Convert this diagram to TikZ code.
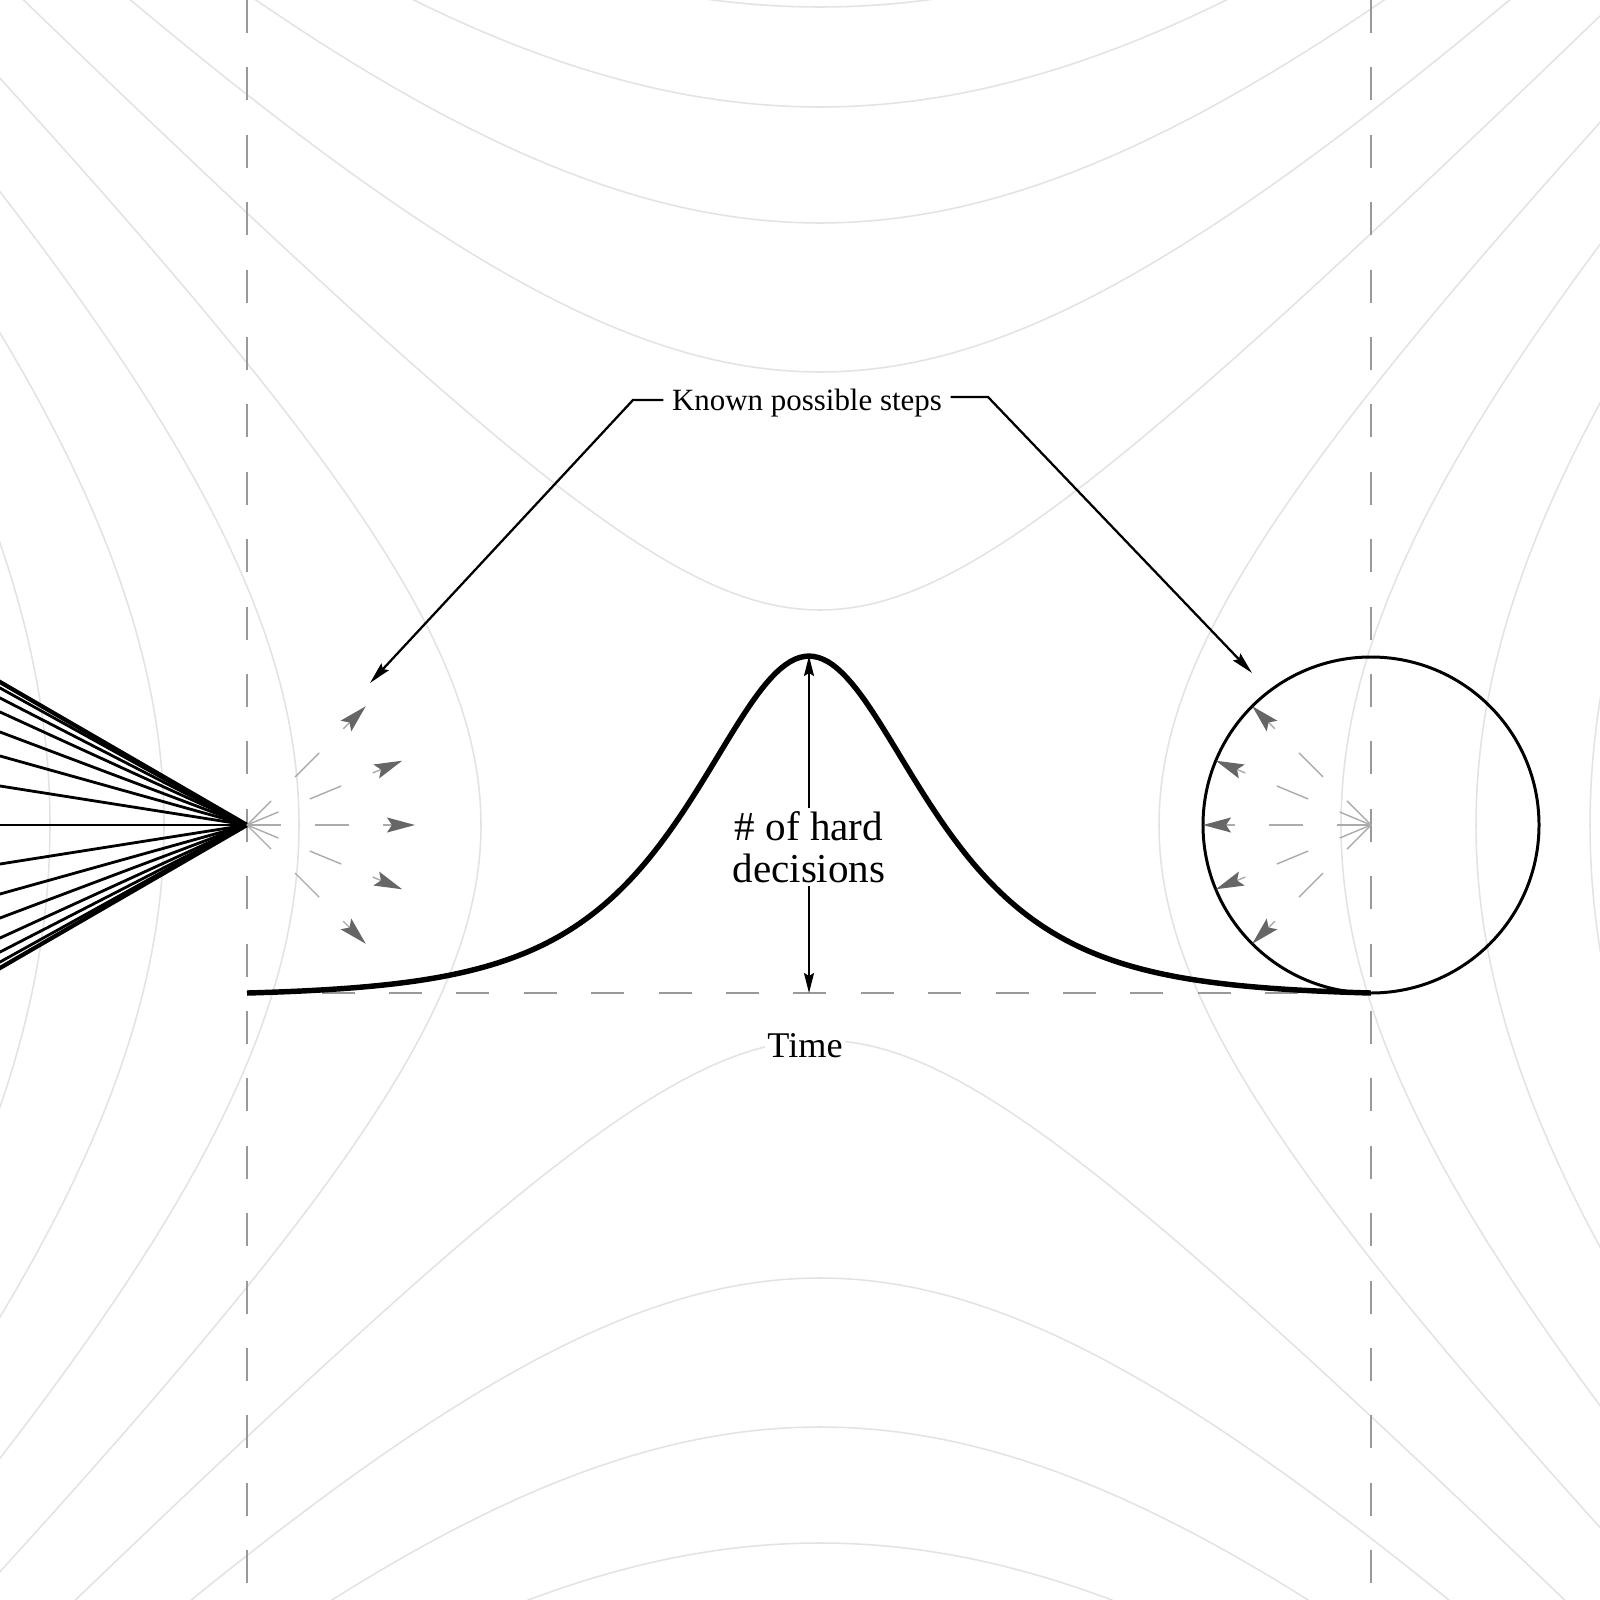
\documentclass[tikz,border=0pt]{standalone}
\usepackage{fontspec}
\setmainfont{Liberation Serif}
\usetikzlibrary{arrows.meta}
\definecolor{bgline}{HTML}{E3E3E3}
\definecolor{guide}{HTML}{999999}
\definecolor{raycol}{HTML}{ABABAB}
\definecolor{tipcol}{HTML}{666666}
\begin{document}
\begin{tikzpicture}[x=1cm,y=-1cm,
  contour/.style={draw=bgline, line width=0.45pt},
  guideline/.style={draw=guide, line width=0.45pt, dash pattern=on 0.33cm off 0.344cm},
  fanline/.style={draw=black, line width=0.8pt},
  fanouter/.style={draw=black, line width=1.2pt},
  ray/.style={draw=raycol, line width=0.4pt, dash pattern=on 0.34cm off 0.34cm,
    -{Stealth[length=0.28cm,width=0.15cm,inset=0.05cm,color=tipcol]}},
  bell/.style={draw=black, line width=1.55pt},
  dim/.style={draw=black, line width=0.6pt, -{Stealth[length=0.2cm,width=0.1cm,inset=0.03cm]}},
  leader/.style={draw=black, line width=0.65pt, -{Stealth[length=0.22cm,width=0.1cm,inset=0.03cm]}},
  biglabel/.style={font=\fontsize{11.7pt}{12pt}\selectfont, align=center, fill=white, inner sep=0.03cm},
  timelabel/.style={font=\fontsize{10.3pt}{12pt}\selectfont, fill=white, inner sep=0.02cm},
  steplabel/.style={font=\fontsize{8.8pt}{10pt}\selectfont, inner xsep=0.08cm, inner ysep=0.02cm},
  ringnode/.style={circle, draw=black, line width=0.85pt, minimum size=3.36cm, inner sep=0pt},
]
\useasboundingbox (0,0) rectangle (16,16);
\clip (0,0) rectangle (16,16);

% background contour lines (level curves of a saddle)
\foreach \b in {2.15,4.53,6.02,7.18,8.18} {
  \draw[contour] plot[domain=-8.6:8.6, samples=181, variable=\t] ({8.20+\t},{8.25-sqrt(\b*\b+\t*\t)});
  \draw[contour] plot[domain=-8.6:8.6, samples=181, variable=\t] ({8.20+\t},{8.25+sqrt(\b*\b+\t*\t)});
}
\foreach \a in {3.39,5.21,6.56,7.70} {
  \draw[contour] plot[domain=-8.6:8.6, samples=181, variable=\t] ({8.20-sqrt(\a*\a+\t*\t)},{8.25+\t});
  \draw[contour] plot[domain=-8.6:8.6, samples=181, variable=\t] ({8.20+sqrt(\a*\a+\t*\t)},{8.25+\t});
}

% key points
\coordinate (F) at (2.47,8.25);
\coordinate (C) at (13.71,8.25);
\coordinate (LT) at (2.47,0);
\coordinate (LB) at (2.47,16);
\coordinate (RT) at (13.71,0);
\coordinate (RB) at (13.71,16);
\coordinate (B0) at (2.47,9.93);
\coordinate (B1) at (13.71,9.93);
\coordinate (peak) at (8.09,6.56);
\coordinate (foot) at (8.09,9.93);

% guide lines
\draw[guideline] (LT) -- (LB);
\draw[guideline] (RT) -- (RB);
\draw[guideline, dash phase=0.602cm] (B0) -- (B1);

% fan of lines converging on the left point
\foreach \o in {-1.37,-1.27,-1.13,-0.93,-0.69,-0.39,0,0.39,0.69,0.93,1.13,1.27,1.37} {
  \coordinate (fe) at (-0.2,{8.25+\o*1.081});
  \draw[fanline] (F) -- (fe);
}
\foreach \o in {-1.43,1.43} {
  \coordinate (fo) at (-0.2,{8.25+\o*1.081});
  \draw[fanouter] (F) -- (fo);
}

% possible steps from the left point
\foreach \ang [count=\i] in {-45,-22.5,0,22.5,45} {
  \path (F) ++(\ang:1.68) coordinate (lr\i);
  \draw[ray] (F) -- (lr\i);
}

% circle and inward steps
\node[ringnode] (ring) at (C) {};
\foreach \ang [count=\i] in {-45,-22.5,0,22.5,45} {
  \path (C) ++(180+\ang:1.68) coordinate (rr\i);
  \draw[ray] (C) -- (rr\i);
}

% bell curve
\draw[bell] plot[domain=-5.62:5.62, samples=241, variable=\t]
  ({8.09+\t},{9.93-3.37*(1/cosh(\t/1.03)-0.0086)/(1-0.0086)});

% height label and arrows
\node[biglabel] (hd) at (8.09,8.47) {\# of hard\\decisions};
\draw[dim] (hd.north) -- (peak);
\draw[dim] (hd.south) -- (foot);

% time label
\node[timelabel] (time) at (8.05,10.455) {Time};

% known possible steps label and leaders
\node[steplabel] (kps) at (8.07,4.03) {Known possible steps};
\coordinate (kl) at (6.33,4.00);
\coordinate (kr) at (9.88,3.97);
\coordinate (tipL) at (3.70,6.83);
\coordinate (tipR) at (12.52,6.73);
\draw[leader] (kps.west |- kl) -- (kl) -- (tipL);
\draw[leader] (kps.east |- kr) -- (kr) -- (tipR);
\end{tikzpicture}
\end{document}
